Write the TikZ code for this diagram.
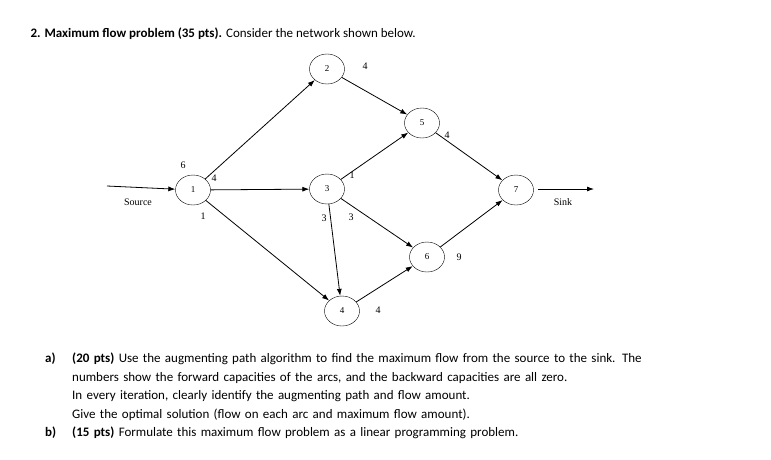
\documentclass[tikz,border=0pt]{standalone}
\usepackage{fontspec}
\setmainfont{Carlito}
\newfontfamily\netfont{Liberation Serif}
\usetikzlibrary{arrows.meta,shapes.geometric}
\begin{document}
\begin{tikzpicture}[x=1pt,y=-1pt,
  vertex/.style={draw,ellipse,minimum width=35pt,minimum height=30pt,inner sep=0pt,font=\netfont\fontsize{9}{10}\selectfont},
  capnum/.style={font=\netfont\fontsize{10}{11}\selectfont,inner sep=0pt},
  arc/.style={-{Latex[length=7pt,width=5pt]},thick}]
  \useasboundingbox (0,0) rectangle (771,459);

  \node[anchor=base west,font=\fontsize{13}{15}\selectfont] (title) at (27,37)
    {\textbf{2. Maximum flow problem (35 pts).} Consider the network shown below.};

  \node[vertex] (n1) at (193,190) {1};
  \node[vertex] (n2) at (327,69) {2};
  \node[vertex] (n3) at (327,189) {3};
  \node[vertex] (n4) at (342,311) {4};
  \node[vertex] (n5) at (422,123) {5};
  \node[vertex] (n6) at (427,257) {6};
  \node[vertex] (n7) at (516,190) {7};
  \coordinate (src) at (107,186);
  \coordinate (snk) at (594,189);
  \coordinate (snk0) at (538,189);

  \draw[arc] (src) -- (n1);
  \draw[arc] (snk0) -- (snk);
  \draw[arc] (n1) -- (n2);
  \draw[arc] (n1) -- (n3);
  \draw[arc] (n1) -- (n4);
  \draw[arc] (n2) -- (n5);
  \draw[arc] (n3) -- (n5);
  \draw[arc] (n3) -- (n6);
  \draw[arc] (n3) -- (n4);
  \draw[arc] (n4) -- (n6);
  \draw[arc] (n5) -- (n7);
  \draw[arc] (n6) -- (n7);

  \node[capnum] (lsrc) at (138,202) {Source};
  \node[capnum] (lsnk) at (563,202) {Sink};
  \node[capnum] (c12) at (183,165) {6};
  \node[capnum] (c13) at (214,178) {4};
  \node[capnum] (c14) at (203,216) {1};
  \node[capnum] (c25) at (365,66) {4};
  \node[capnum] (c35) at (352,175) {1};
  \node[capnum] (c34) at (324,218) {3};
  \node[capnum] (c36) at (351,217) {3};
  \node[capnum] (c57) at (447,135) {4};
  \node[capnum] (c67) at (459,257) {9};
  \node[capnum] (c46) at (378,310) {4};

  \node[anchor=north west,inner sep=0pt,text width=690pt,align=left,
        font=\fontsize{13}{18.5}\selectfont] (parts) at (45,353) {%
    \makebox[27pt][l]{\textbf{a)}}\textbf{(20 pts)} Use the augmenting path algorithm to find the maximum flow from the source to the sink. The\\
    \hspace*{27pt}numbers show the forward capacities of the arcs, and the backward capacities are all zero.\\
    \hspace*{27pt}In every iteration, clearly identify the augmenting path and flow amount.\\
    \hspace*{27pt}Give the optimal solution (flow on each arc and maximum flow amount).\\
    \makebox[27pt][l]{\textbf{b)}}\textbf{(15 pts)} Formulate this maximum flow problem as a linear programming problem.};
\end{tikzpicture}
\end{document}
